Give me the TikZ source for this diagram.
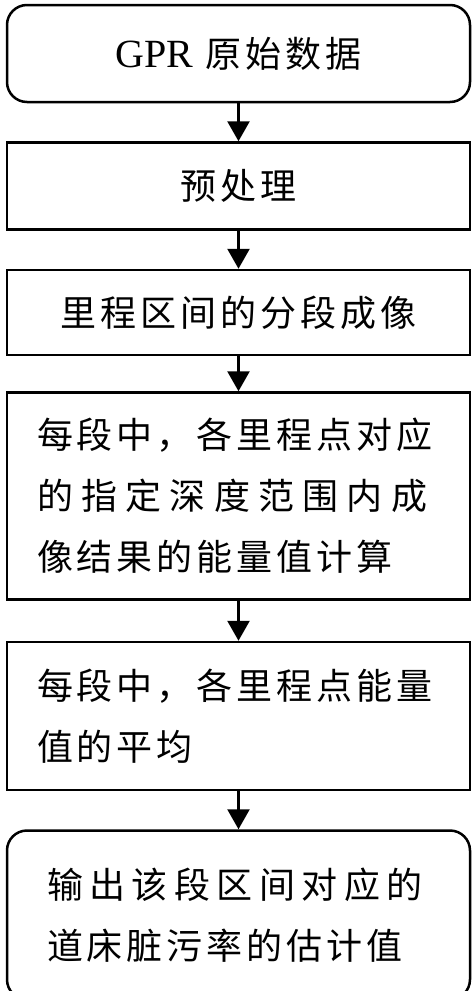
\documentclass[tikz,border=0pt]{standalone}
\usepackage{fontspec}
\setmainfont{Liberation Serif}
\newfontfamily\cjk{Noto Sans CJK SC}[LetterSpace=11]
\usetikzlibrary{positioning,arrows.meta}

\tikzset{
  stepbox/.style={draw, line width=2.5pt, minimum width=463pt, inner sep=0pt,
    font=\cjk\fontsize{36}{61}\selectfont},
  endbox/.style={stepbox, rounded corners=20pt},
  flow/.style={line width=2.5pt, -{Triangle[length=20pt,width=22pt]}},
}
\newcommand{\wider}[2]{{\addfontfeature{LetterSpace=#1}#2}}

\begin{document}
\begin{tikzpicture}[x=1pt,y=1pt]
\useasboundingbox (0,0) rectangle (474,-991);
% steps of the processing chain, top to bottom
\node[endbox, minimum height=97pt] (raw) at (238.5,-53.5)
  {{\rmfamily\fontsize{40}{40}\selectfont GPR} 原始数据};
\node[stepbox, minimum height=87pt, below=38pt of raw] (pre) {预处理};
\node[stepbox, minimum height=85pt, below=38pt of pre] (seg) {里程区间的分段成像};
\node[stepbox, minimum height=207pt, below=35pt of seg, text width=403pt, align=left] (energy)
  {每段中，各里程点对应\\\wider{23}{的指定深度范围内成}\\像结果的能量值计算};
\node[stepbox, minimum height=148pt, below=40pt of energy, text width=403pt, align=left] (avg)
  {每段中，各里程点能量\\值的平均};
\node[endbox, minimum height=169pt, below=38pt of avg, text width=383pt, align=left] (out)
  {\wider{18}{输出该段区间对应的}\\道床脏污率的估计值};
% connectors
\foreach \a/\b in {raw/pre, pre/seg, seg/energy, energy/avg, avg/out}
  \draw[flow] (\a) -- (\b);
\end{tikzpicture}
\end{document}
